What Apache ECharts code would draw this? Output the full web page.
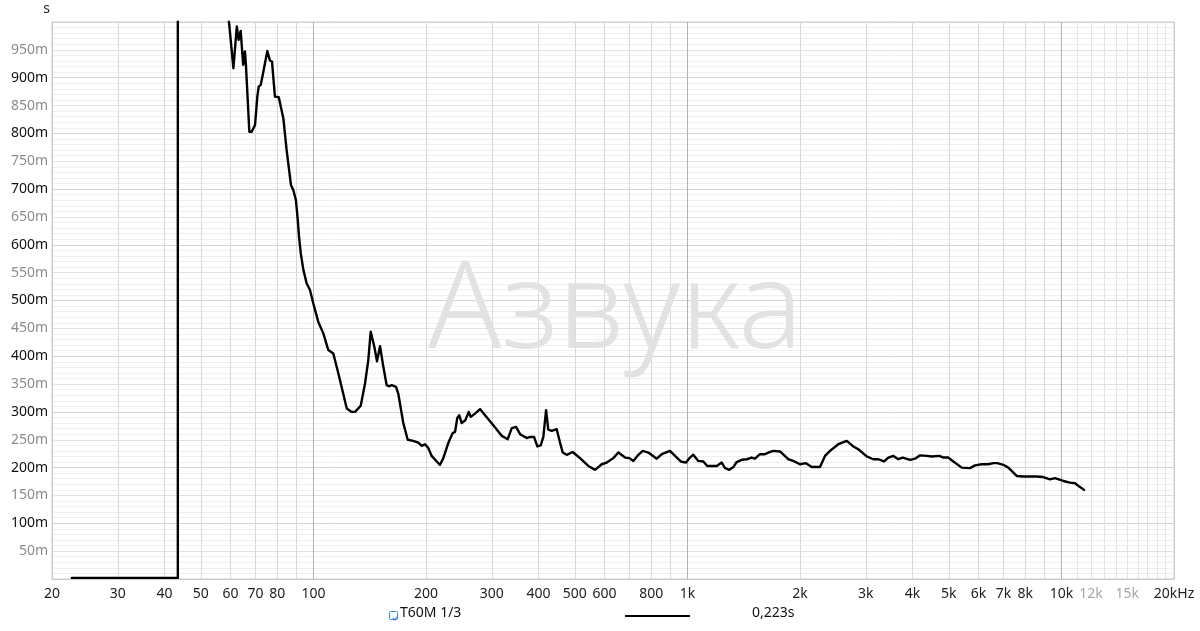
<!DOCTYPE html>
<html>
<head>
<meta charset="utf-8">
<script src="https://cdn.jsdelivr.net/npm/echarts@6/dist/echarts.min.js"></script>
<style>
html,body{margin:0;padding:0;background:#fff;}
#c{width:1200px;height:631px;}
</style>
</head>
<body>
<div id="c"></div>
<script>
// ---- data ----
const freqHz = [22.6, 43.4, 43.4, 50, 56, 58.5, 61.1, 62.4, 63.1, 63.9, 64.9, 65.6, 66.0, 67.4, 68.4, 69.8, 70.8, 71.4, 72.3, 73.5, 74.4, 75.3, 76.5, 77.5, 78.9, 80.8, 83.1, 84.8, 87.1, 88.4, 89.8, 90.8, 91.5, 92.5, 94.0, 95.9, 97.9, 99.9, 103.0, 106.3, 109.6, 113.0, 116.6, 122.8, 126.6, 129.2, 133.8, 137.4, 140.2, 142.3, 145.5, 147.9, 150.7, 153.8, 157.0, 159.6, 161.9, 166.3, 168.6, 173.9, 178.7, 184.9, 190.7, 194.8, 198.8, 202.8, 207.1, 213.6, 218.0, 222.5, 229.4, 235.7, 239.1, 242.5, 245.5, 249.2, 254.8, 260.2, 263.4, 270.4, 279.0, 287.7, 302.7, 318.8, 330.8, 339.1, 348.2, 356.9, 371.9, 379.5, 389.0, 396.9, 405.3, 411.9, 418.9, 424.6, 433.6, 447.2, 454.4, 464.0, 475.6, 493.4, 516.2, 543.2, 566.2, 590.0, 608.6, 633.7, 653.6, 681.2, 699.5, 716.9, 739.2, 759.4, 786.2, 827.9, 853.8, 898.4, 926.6, 959.5, 991.4, 1016, 1037, 1069, 1103, 1130, 1198, 1235, 1261, 1294, 1327, 1354, 1397, 1441, 1486, 1516, 1563, 1612, 1645, 1697, 1768, 1861, 1919, 2000, 2075, 2150, 2262, 2333, 2406, 2532, 2667, 2777, 2864, 3016, 3141, 3240, 3356, 3446, 3554, 3664, 3766, 3938, 4062, 4189, 4366, 4502, 4718, 4836, 4986, 5142, 5414, 5698, 5876, 6124, 6377, 6576, 6740, 6994, 7211, 7594, 7910, 8241, 8588, 8943, 9320, 9612, 10116, 10543, 10873, 11214, 11493];
const t60Sec = [0.002, 0.002, 1.6, 1.4, 1.15, 1.05, 0.917, 0.992, 0.968, 0.984, 0.923, 0.947, 0.923, 0.803, 0.803, 0.815, 0.866, 0.884, 0.887, 0.911, 0.914, 0.948, 0.931, 0.929, 0.866, 0.865, 0.827, 0.770, 0.707, 0.698, 0.680, 0.645, 0.615, 0.585, 0.555, 0.531, 0.519, 0.495, 0.462, 0.441, 0.411, 0.405, 0.369, 0.306, 0.300, 0.300, 0.311, 0.351, 0.393, 0.444, 0.417, 0.391, 0.418, 0.381, 0.348, 0.346, 0.348, 0.345, 0.333, 0.280, 0.250, 0.248, 0.245, 0.239, 0.242, 0.235, 0.221, 0.211, 0.205, 0.217, 0.244, 0.262, 0.264, 0.289, 0.294, 0.280, 0.285, 0.300, 0.291, 0.297, 0.305, 0.294, 0.276, 0.257, 0.251, 0.271, 0.273, 0.260, 0.253, 0.255, 0.255, 0.238, 0.240, 0.255, 0.303, 0.268, 0.266, 0.269, 0.250, 0.227, 0.223, 0.228, 0.217, 0.203, 0.196, 0.206, 0.209, 0.217, 0.227, 0.218, 0.217, 0.212, 0.223, 0.230, 0.227, 0.216, 0.224, 0.230, 0.221, 0.211, 0.209, 0.218, 0.223, 0.212, 0.211, 0.203, 0.203, 0.209, 0.199, 0.196, 0.201, 0.210, 0.214, 0.215, 0.218, 0.216, 0.224, 0.224, 0.227, 0.230, 0.229, 0.215, 0.212, 0.206, 0.208, 0.201, 0.201, 0.221, 0.230, 0.242, 0.248, 0.238, 0.233, 0.220, 0.215, 0.215, 0.211, 0.218, 0.221, 0.215, 0.218, 0.214, 0.216, 0.222, 0.221, 0.220, 0.221, 0.218, 0.218, 0.211, 0.200, 0.199, 0.204, 0.206, 0.206, 0.208, 0.208, 0.205, 0.200, 0.185, 0.184, 0.184, 0.184, 0.183, 0.179, 0.181, 0.176, 0.173, 0.172, 0.165, 0.160];
const xLabelValues = [20, 30, 40, 50, 60, 70, 80, 100, 200, 300, 400, 500, 600, 800, 1000, 2000, 3000, 4000, 5000, 6000, 7000, 8000, 10000, 12000, 15000, 20000];
const xGridValues = [20, 30, 40, 50, 60, 70, 80, 90, 100, 200, 300, 400, 500, 600, 700, 800, 900, 1000, 2000, 3000, 4000, 5000, 6000, 7000, 8000, 9000, 10000, 11000, 12000, 13000, 14000, 15000, 16000, 17000, 18000, 19000, 20000];
const xGreyLabels = [12000, 15000];
const seriesName = 'T60M 1/3';
const legendValue = '0,223s';
const watermark = 'Азвука';

// ---- build ----
const points = freqHz.map((f, i) => [f, t60Sec[i]]);
const xGridColors = xGridValues.map(v => {
  if (v === 20 || v === 20000) return '#cfcfcf';
  if (v === 100 || v === 1000 || v === 10000) return '#b2b2b2';
  if (v > 10000) return '#e4e4e4';
  return '#d9d9d9';
});
const yGridColors = [];
for (let k = 0; k <= 20; k++) yGridColors.push(k % 2 === 0 ? '#d4d4d4' : '#e2e2e2');

const chart = echarts.init(document.getElementById('c'), null, {renderer: 'canvas'});
const FONT = 'Noto Sans';
chart.setOption({
  animation: false,
  backgroundColor: '#ffffff',
  grid: {left: 52, right: 26, top: 22, bottom: 52, show: true, borderColor: '#cccccc', borderWidth: 1, containLabel: false},
  xAxis: {
    type: 'log', logBase: 10, min: 20, max: 20000,
    axisLine: {show: true, lineStyle: {color: '#cccccc', width: 1}},
    axisTick: {show: false, customValues: xGridValues},
    splitLine: {show: true, lineStyle: {color: xGridColors, width: 1}},
    minorSplitLine: {show: false},
    axisLabel: {
      customValues: xLabelValues, margin: 8, fontFamily: FONT, fontSize: 14,
      color: v => (xGreyLabels.indexOf(Math.round(v)) >= 0 ? '#a6a6a6' : '#222222'),
      formatter: v => {
        v = Math.round(v);
        if (v === 20000) return '20kHz';
        return v >= 1000 ? (v / 1000) + 'k' : String(v);
      }
    }
  },
  yAxis: {
    type: 'value', min: 0, max: 1, interval: 0.05,
    name: 's', nameLocation: 'end', nameGap: 13,
    nameTextStyle: {fontFamily: FONT, fontSize: 14, color: '#222', align: 'right', verticalAlign: 'middle', padding: [0, 2, 0, 0]},
    axisLine: {show: true, lineStyle: {color: '#cccccc'}},
    axisTick: {show: false},
    splitLine: {show: true, lineStyle: {color: yGridColors, width: 1}},
    minorTick: {show: false, splitNumber: 5},
    minorSplitLine: {show: true, lineStyle: {color: '#efefef', width: 1}},
    axisLabel: {
      margin: 4, fontFamily: FONT, fontSize: 14,
      color: v => (Math.round(v * 1000) % 100 === 0 ? '#111111' : '#8c8c8c'),
      formatter: v => {
        const m = Math.round(v * 1000);
        if (m === 0 || m >= 1000) return '';
        return m + 'm';
      }
    }
  },
  graphic: [
    {type: 'text', z: 1, zlevel: 0, left: 428, top: 253, silent: true,
     style: {text: watermark, fontFamily: FONT, fontSize: 121, fontWeight: 300, fill: '#e2e2e2'}},
    {type: 'rect', left: 389, top: 611, shape: {x: 0, y: 0, width: 8, height: 8, r: 1}, style: {fill: '#ffffff', stroke: '#3c8ad8', lineWidth: 1}},
    {type: 'polyline', left: 390.5, top: 613, shape: {points: [[0, 2.5], [2, 4.5], [5, 0]]}, style: {fill: null, stroke: '#3c8ad8', lineWidth: 1.2}},
    {type: 'text', left: 400, top: 606, style: {text: seriesName, fontFamily: FONT, fontSize: 14, fill: '#111111'}},
    {type: 'line', shape: {x1: 625, y1: 616, x2: 690, y2: 616}, style: {stroke: '#000000', lineWidth: 2}},
    {type: 'text', left: 752, top: 606, style: {text: legendValue, fontFamily: FONT, fontSize: 14, fill: '#111111'}}
  ],
  series: [{
    name: seriesName, type: 'line', data: points, showSymbol: false, symbol: 'none',
    clip: true, z: 5,
    lineStyle: {color: '#000000', width: 2.4, join: 'round', cap: 'round'},
    itemStyle: {color: '#000000'}
  }]
});
</script>
</body>
</html>
